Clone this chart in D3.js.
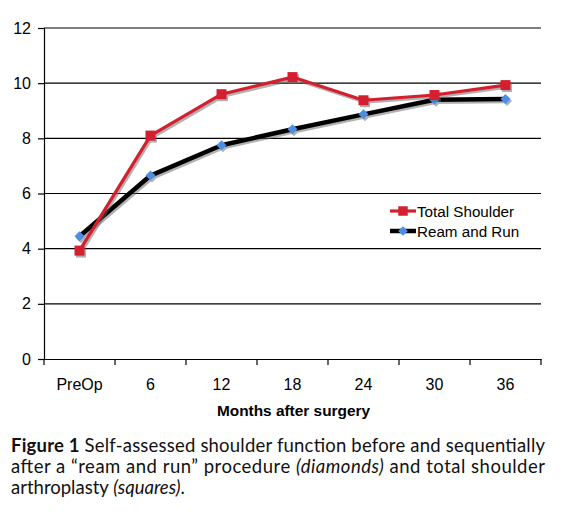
<!DOCTYPE html>
<html>
<head>
<meta charset="utf-8">
<script src="https://cdn.jsdelivr.net/npm/d3@7"></script>
<style>
  html, body { margin: 0; padding: 0; background: #fff; }
  svg { display: block; }
</style>
</head>
<body>
<svg id="chart" width="565" height="523"></svg>
<script>
const categories = ["PreOp", "6", "12", "18", "24", "30", "36"];
const totalShoulder = [3.93, 8.1, 9.6, 10.22, 9.38, 9.57, 9.93];
const reamAndRun = [4.45, 6.65, 7.75, 8.33, 8.87, 9.4, 9.43];
const yTicks = [0, 2, 4, 6, 8, 10, 12];
const seriesNames = ["Total Shoulder", "Ream and Run"];
const xTitle = "Months after surgery";

(function () {
const svg = d3.select("#chart");
const pLeft = 44, pRight = 541, pTop = 28, pBottom = 359;

const x = d3.scaleBand().domain(categories).range([pLeft, pRight]).padding(0);
const y = d3.scaleLinear().domain([0, 12]).range([pBottom, pTop]);
const cx = d => x(d) + x.bandwidth() / 2;

// gridlines
svg.append("g").selectAll("line").data(yTicks.filter(t => t > 0)).join("line")
  .attr("x1", pLeft).attr("x2", pRight)
  .attr("y1", d => y(d)).attr("y2", d => y(d))
  .attr("stroke", "#000").attr("stroke-width", 1.2);

// y axis
const yAxis = svg.append("g").attr("transform", `translate(${pLeft},0)`)
  .call(d3.axisLeft(y).tickValues(yTicks).tickSize(6).tickPadding(7));
yAxis.select(".domain").attr("stroke", "#000").attr("stroke-width", 1.2);
yAxis.selectAll(".tick line").attr("stroke", "#000").attr("stroke-width", 1.2);
yAxis.selectAll("text").attr("font-family", "Liberation Sans, Arial, sans-serif")
  .attr("font-size", 16).attr("fill", "#000");

// x axis
const xAxis = svg.append("g").attr("transform", `translate(0,${pBottom})`)
  .call(d3.axisBottom(x).tickSize(0).tickPadding(20));
xAxis.select(".domain").attr("stroke", "#000").attr("stroke-width", 1.2);
xAxis.selectAll("text").attr("font-family", "Liberation Sans, Arial, sans-serif")
  .attr("font-size", 16).attr("fill", "#000");
// tick marks at band boundaries
const bounds = categories.map(c => x(c)).concat([pRight]);
svg.append("g").selectAll("line").data(bounds).join("line")
  .attr("x1", d => d).attr("x2", d => d)
  .attr("y1", pBottom).attr("y2", pBottom + 6)
  .attr("stroke", "#000").attr("stroke-width", 1.2);

svg.append("text").attr("x", (pLeft + pRight) / 2 + 1).attr("y", 416)
  .attr("text-anchor", "middle")
  .attr("font-family", "Liberation Sans, Arial, sans-serif")
  .attr("font-weight", "bold").attr("font-size", 15.4)
  .text(xTitle);

const line = d3.line().x((d, i) => cx(categories[i])).y(d => y(d));

function drawSeries(vals, color, width, marker, mcolor, dx, dy) {
  const sym = d3.symbol().type(marker === "square" ? d3.symbolSquare : d3.symbolDiamond2)
    .size(marker === "square" ? 100 : 64);
  const sh = svg.append("g").attr("transform", `translate(${dx},${dy})`).attr("opacity", 0.5);
  sh.append("path").attr("d", line(vals)).attr("fill", "none")
    .attr("stroke", "#666").attr("stroke-width", width).attr("stroke-linejoin", "round");
  sh.append("g").selectAll("path").data(vals).join("path")
    .attr("d", sym).attr("transform", (d, i) => `translate(${cx(categories[i])},${y(d)})`)
    .attr("fill", "#666");
  const g = svg.append("g");
  g.append("path").attr("d", line(vals)).attr("fill", "none")
    .attr("stroke", color).attr("stroke-width", width).attr("stroke-linejoin", "round");
  g.append("g").selectAll("path").data(vals).join("path")
    .attr("d", sym).attr("transform", (d, i) => `translate(${cx(categories[i])},${y(d)})`)
    .attr("fill", mcolor);
}

drawSeries(reamAndRun, "#000", 4.5, "diamond", "#4a8ee8", 1.5, 2);
drawSeries(totalShoulder, "#d41f2e", 3.2, "square", "#d41f2e", 1.5, 2);

// legend
const legend = svg.append("g");
const legendItems = [
  { name: seriesNames[0], color: "#d41f2e", width: 3.2, marker: d3.symbolSquare, msize: 90, mcolor: "#d41f2e", ly: 211 },
  { name: seriesNames[1], color: "#000", width: 4.5, marker: d3.symbolDiamond2, msize: 60, mcolor: "#4a8ee8", ly: 231 }
];
legendItems.forEach(it => {
  legend.append("line").attr("x1", 390).attr("x2", 416).attr("y1", it.ly).attr("y2", it.ly)
    .attr("stroke", it.color).attr("stroke-width", it.width);
  legend.append("path").attr("d", d3.symbol().type(it.marker).size(it.msize))
    .attr("transform", `translate(403,${it.ly})`).attr("fill", it.mcolor);
  legend.append("text").attr("x", 417).attr("y", it.ly + 5.5)
    .attr("font-family", "Liberation Sans, Arial, sans-serif").attr("font-size", 15.2)
    .text(it.name);
});

// caption
const capFont = "Lato, 'Open Sans', sans-serif";
const cap = svg.append("g").attr("font-family", capFont).attr("font-size", 18.5).attr("fill", "#111");
const l1 = cap.append("text").attr("x", 11).attr("y", 452)
  .attr("textLength", 534).attr("lengthAdjust", "spacing");
l1.append("tspan").attr("font-weight", "bold").text("Figure 1");
l1.append("tspan").text(" Self-assessed shoulder function before and sequentially");
const l2 = cap.append("text").attr("x", 11).attr("y", 473)
  .attr("textLength", 534).attr("lengthAdjust", "spacing");
l2.append("tspan").text("after a \u201cream and run\u201d procedure ");
l2.append("tspan").attr("font-style", "italic").text("(diamonds)");
l2.append("tspan").text(" and total shoulder");
const l3 = cap.append("text").attr("x", 11).attr("y", 494);
l3.append("tspan").text("arthroplasty ");
l3.append("tspan").attr("font-style", "italic").text("(squares)");
l3.append("tspan").text(".");
})();
</script>
</body>
</html>
